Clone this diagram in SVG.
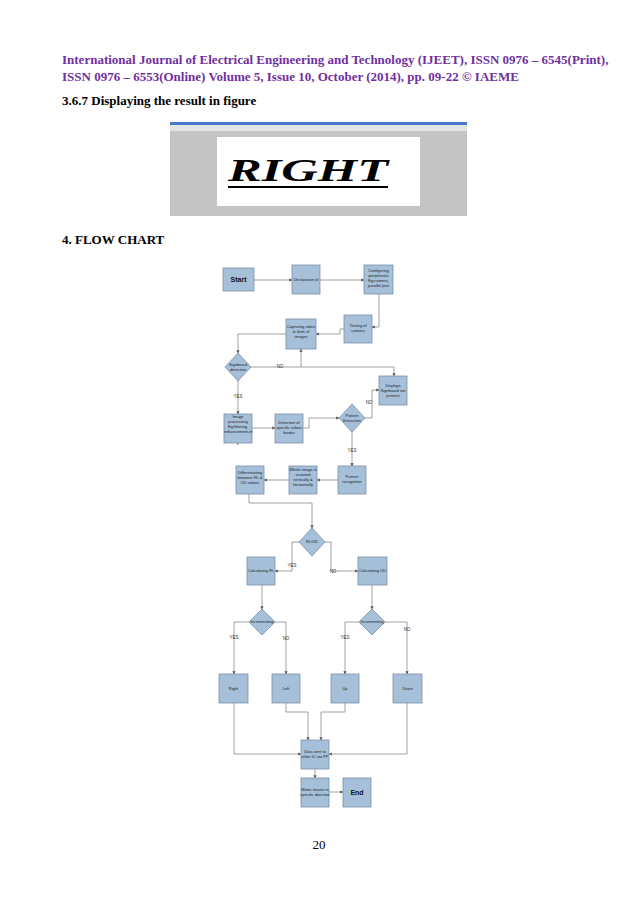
<svg xmlns="http://www.w3.org/2000/svg" width="638" height="903" viewBox="0 0 638 903">
<defs>
<style>
.hd{font-family:"Liberation Serif",serif;font-weight:bold;font-size:13px;fill:#7030a0}
.t{font-family:"Liberation Serif",serif;font-weight:bold;font-size:13px;fill:#000}
.b{fill:#a6c0da;stroke:#7b8ea5;stroke-width:0.8}
.n{font-family:"Liberation Sans",sans-serif;font-size:4px;fill:#222;text-anchor:middle}
.nb{font-family:"Liberation Sans",sans-serif;font-size:7px;font-weight:bold;fill:#111;text-anchor:middle}
.l{font-family:"Liberation Sans",sans-serif;font-size:4.5px;fill:#333;text-anchor:middle}
.c{fill:none;stroke:#8a8a8a;stroke-width:0.8;marker-end:url(#a)}
.c0{fill:none;stroke:#8a8a8a;stroke-width:0.8}
</style>
<marker id="a" markerWidth="4" markerHeight="4" refX="3.5" refY="2" orient="auto"><path d="M0,0L4,2L0,4z" fill="#555"/></marker>
</defs>
<rect width="638" height="903" fill="#fff"/>
<text class="hd" x="62" y="64">International Journal of Electrical Engineering and Technology (IJEET), ISSN 0976 – 6545(Print),</text>
<text class="hd" x="62" y="81">ISSN 0976 – 6553(Online) Volume 5, Issue 10, October (2014), pp. 09-22 © IAEME</text>
<text class="t" x="62" y="105">3.6.7 Displaying the result in figure</text>
<g id="screenshot">
<rect x="170" y="122" width="297" height="94" fill="#c4c4c4"/>
<rect x="170" y="122" width="297" height="3" fill="#4a78c8"/>
<rect x="170" y="125" width="297" height="6" fill="#e4e4e4"/>
<rect x="217" y="137" width="203" height="69" fill="#fff"/>
<text x="308" y="181" font-family="Liberation Serif,serif" font-weight="bold" font-style="italic" font-size="31" text-anchor="middle" textLength="160" lengthAdjust="spacingAndGlyphs">RIGHT</text>
<rect x="228" y="186" width="160" height="2" fill="#000"/>
</g>
<text class="t" x="62" y="244">4. FLOW CHART</text>
<g id="connectors">
<path class="c" d="M254,280H292"/>
<path class="c" d="M320,280H364"/>
<path class="c" d="M379,294V327H372"/>
<path class="c" d="M344,329H340V334H316"/>
<path class="c" d="M286,334H238V353"/>
<path class="c" d="M251,367H394V376"/>
<path class="c" d="M301,367V349"/>
<path class="c" d="M238,381V414"/>
<path class="c" d="M252,428H275"/>
<path class="c" d="M303,428H309V418H339"/>
<path class="c" d="M365,418H372V390H379"/>
<path class="c" d="M352,432V466"/>
<path class="c" d="M338,480H317"/>
<path class="c" d="M289,480H264"/>
<path class="c" d="M249,494V503H312V528"/>
<path class="c" d="M299,542H292V571H275"/>
<path class="c" d="M325,542H331V571H358"/>
<path class="c" d="M262,585V609"/>
<path class="c" d="M372,585V609"/>
<path class="c" d="M249,622H234V674"/>
<path class="c" d="M275,622H286V674"/>
<path class="c" d="M359,622H345V674"/>
<path class="c" d="M385,622H407V674"/>
<path class="c" d="M234,703V754H301"/>
<path class="c" d="M407,703V754H329"/>
<path class="c" d="M286,703V712H308V740"/>
<path class="c" d="M345,703V712H321V740"/>
<path class="c" d="M315,769V778"/>
<path class="c" d="M329,792H343"/>
<text class="l" x="280" y="368">NO</text>
<text class="l" x="238" y="398">YES</text>
<text class="l" x="369" y="404">NO</text>
<text class="l" x="352" y="452">YES</text>
<text class="l" x="292" y="567">YES</text>
<text class="l" x="333" y="573">NO</text>
<text class="l" x="234" y="639">YES</text>
<text class="l" x="286" y="640">NO</text>
<text class="l" x="345" y="639">YES</text>
<text class="l" x="407" y="631">NO</text>
</g>
<g id="start"><rect class="b" x="223" y="268" width="31" height="23"/><text class="nb" x="238.5" y="282">Start</text></g>
<g id="declaration"><rect class="b" x="292" y="265" width="28" height="29"/><text class="n" x="306" y="281">Declaration of</text></g>
<g id="configuring"><rect class="b" x="364" y="265" width="29" height="29"/><text class="n" x="378.5" y="272">Configuring</text><text class="n" x="378.5" y="277">peripherals</text><text class="n" x="378.5" y="282">Eg:camera,</text><text class="n" x="378.5" y="287">parallel port</text></g>
<g id="testing"><rect class="b" x="344" y="315" width="28" height="28"/><text class="n" x="358" y="327">Testing of</text><text class="n" x="358" y="332">camera</text></g>
<g id="capturing"><rect class="b" x="286" y="319" width="30" height="30"/><text class="n" x="301" y="328">Capturing video</text><text class="n" x="301" y="333">in form of</text><text class="n" x="301" y="338">images</text></g>
<g id="signboard"><path class="b" d="M238,353L251,367L238,381L225,367z"/><text class="n" x="238" y="366">Signboard</text><text class="n" x="238" y="371">detection</text></g>
<g id="displays"><rect class="b" x="379" y="376" width="28" height="29"/><text class="n" x="393" y="387">Displays</text><text class="n" x="393" y="392">Signboard not</text><text class="n" x="393" y="397">present</text></g>
<g id="imageproc"><rect class="b" x="224" y="414" width="28" height="29"/><text class="n" x="238" y="418">Image</text><text class="n" x="238" y="423">processing</text><text class="n" x="238" y="428">Eg:filtering,</text><text class="n" x="238" y="433">enhancement,et</text><text class="n" x="238" y="445">c</text></g>
<g id="detection"><rect class="b" x="275" y="414" width="28" height="29"/><text class="n" x="289" y="424">Detection of</text><text class="n" x="289" y="429">specific colour</text><text class="n" x="289" y="434">border</text></g>
<g id="pattern"><path class="b" d="M352,404L365,418L352,432L339,418z"/><text class="n" x="352" y="417">Pattern</text><text class="n" x="352" y="422">Extraction</text></g>
<g id="recognition"><rect class="b" x="338" y="466" width="28" height="28"/><text class="n" x="352" y="478">Pattern</text><text class="n" x="352" y="483">recognition</text></g>
<g id="whole"><rect class="b" x="289" y="466" width="28" height="28"/><text class="n" x="303" y="471">Whole image is</text><text class="n" x="303" y="476">scanned</text><text class="n" x="303" y="481">vertically &amp;</text><text class="n" x="303" y="486">horizontally</text></g>
<g id="differentiating"><rect class="b" x="236" y="466" width="28" height="28"/><text class="n" x="250" y="474">Differentiating</text><text class="n" x="250" y="479">between RL &amp;</text><text class="n" x="250" y="484">UD values</text></g>
<g id="rlud"><path class="b" d="M312,528L325,542L312,556L299,542z"/><text class="n" x="312" y="543">RL/UD</text></g>
<g id="calcrl"><rect class="b" x="247" y="557" width="28" height="28"/><text class="n" x="261" y="572">Calculating RL</text></g>
<g id="calcud"><rect class="b" x="358" y="557" width="29" height="28"/><text class="n" x="372.5" y="572">Calculating UD</text></g>
<g id="inc1"><path class="b" d="M262,609L275,622L262,635L249,622z"/><text class="n" x="262" y="623">Incrementing</text></g>
<g id="inc2"><path class="b" d="M372,609L385,622L372,635L359,622z"/><text class="n" x="372" y="623">Incrementing</text></g>
<g id="right"><rect class="b" x="219" y="674" width="29" height="29"/><text class="n" x="233.5" y="690">Right</text></g>
<g id="left"><rect class="b" x="272" y="674" width="28" height="29"/><text class="n" x="286" y="690">Left</text></g>
<g id="up"><rect class="b" x="331" y="674" width="28" height="29"/><text class="n" x="345" y="690">Up</text></g>
<g id="down"><rect class="b" x="393" y="674" width="29" height="29"/><text class="n" x="407.5" y="690">Down</text></g>
<g id="datasent"><rect class="b" x="301" y="740" width="28" height="29"/><text class="n" x="315" y="753">Data sent to</text><text class="n" x="315" y="758">other IC via PP</text></g>
<g id="motor"><rect class="b" x="301" y="778" width="28" height="29"/><text class="n" x="315" y="791">Motor moves in</text><text class="n" x="315" y="796">specific direction</text></g>
<g id="end"><rect class="b" x="343" y="778" width="28" height="29"/><text class="nb" x="357" y="795">End</text></g>
<text x="319" y="849" font-family="Liberation Serif,serif" font-size="13" text-anchor="middle">20</text>
</svg>
